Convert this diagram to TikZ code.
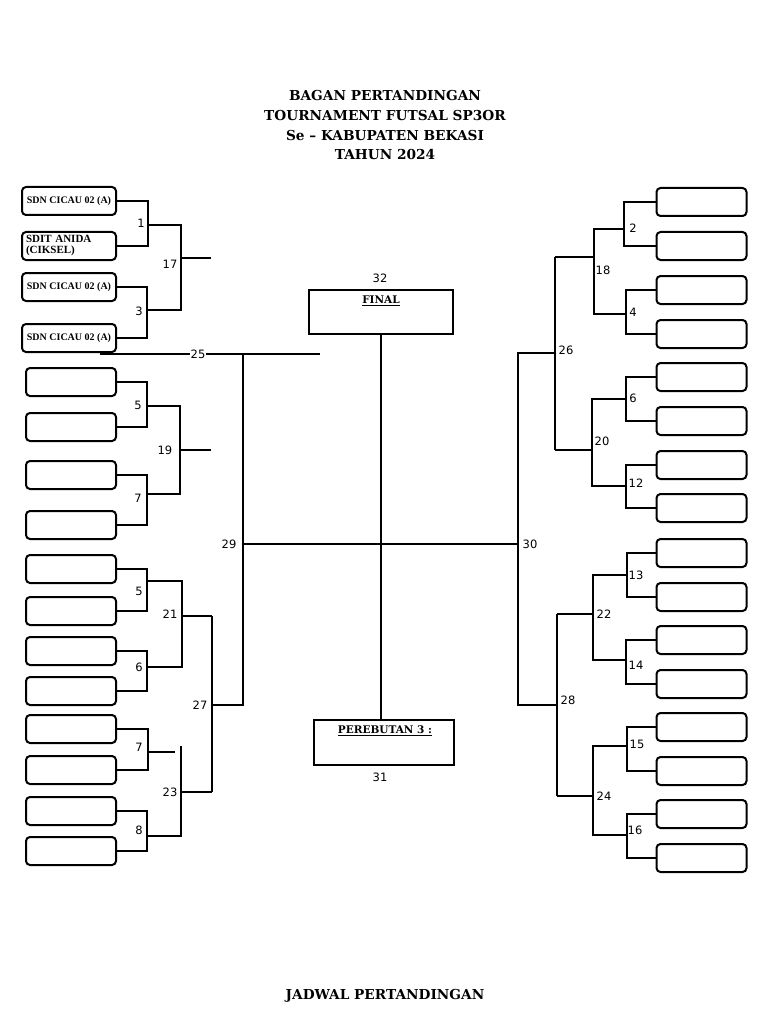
\documentclass[tikz,border=0pt]{standalone}
\usepackage{fontspec}
\setmainfont{DejaVu Serif}
\newfontfamily\numf{DejaVu Sans}
\newfontfamily\boxf{Liberation Serif}
\begin{document}
\begin{tikzpicture}[x=1pt,y=-1pt,
  tb/.style={draw,line width=2pt,rounded corners=4pt,minimum width=90pt,minimum height=28pt,inner sep=1pt,font=\boxf\bfseries\fontsize{10}{10}\selectfont,align=left},
  ln/.style={line width=2pt},
  num/.style={font=\numf\fontsize{11.5}{13}\selectfont,inner sep=0pt},
  ttl/.style={font=\bfseries\fontsize{13.7}{15}\selectfont,inner sep=0pt}]
\useasboundingbox (0,0) rectangle (768,1024);
% titles
\node[ttl] (t1) at (385,96) {BAGAN PERTANDINGAN};
\node[ttl] (t2) at (385,116) {TOURNAMENT FUTSAL SP3OR};
\node[ttl] (t3) at (385,136) {Se -- KABUPATEN BEKASI};
\node[ttl] (t4) at (385,155) {TAHUN 2024};
\node[ttl] (t5) at (385,996) {JADWAL PERTANDINGAN};
% left boxes
\node[tb,minimum width=94pt] (L1) at (69,201) {SDN CICAU 02 (A)};
\node[tb,minimum width=94pt,text width=86pt,font=\boxf\bfseries\fontsize{11}{11}\selectfont] (L2) at (69,246) {SDIT ANIDA\\(CIKSEL)};
\node[tb,minimum width=94pt] (L3) at (69,287) {SDN CICAU 02 (A)};
\node[tb,minimum width=94pt] (L4) at (69,338) {SDN CICAU 02 (A)};
\foreach \n/\y in {5/382,6/427,7/475,8/525,9/569,10/611,11/651,12/691,13/729,14/770,15/811,16/851}
  \node[tb] (L\n) at (71,\y) {};
% right boxes
\foreach \n/\y in {1/202,2/246,3/290,4/334,5/377,6/421,7/465,8/508,9/553,10/597,11/640,12/684,13/727,14/771,15/814,16/858}
  \node[tb] (R\n) at (701.5,\y) {};
% left round 1
\draw[ln] (L1.east) -| (148,223) |- (L2.east);
\draw[ln] (L3.east) -| (147,311) |- (L4.east);
\draw[ln] (L5.east) -| (147,405) |- (L6.east);
\draw[ln] (L7.east) -| (147,498) |- (L8.east);
\draw[ln] (L9.east) -| (147,591) |- (L10.east);
\draw[ln] (L11.east) -| (147,667) |- (L12.east);
\draw[ln] (L13.east) -| (148,747) |- (L14.east);
\draw[ln] (L15.east) -| (147,830) |- (L16.east);
\node[num] (n1) at (141,223) {1};
\node[num] (n3) at (139,311) {3};
\node[num] (n5a) at (138,405) {5};
\node[num] (n7a) at (138,498) {7};
\node[num] (n5b) at (139,591) {5};
\node[num] (n6a) at (139,667) {6};
\node[num] (n7b) at (139,747) {7};
\node[num] (n8) at (139,830) {8};
% left round 2
\draw[ln] (148,225) -| (181,310) -- (147,310);
\draw[ln] (181,258) -- (211,258);
\draw[ln] (147,406) -| (180,494) -- (147,494);
\draw[ln] (180,450) -- (211,450);
\draw[ln] (147,581) -| (182,667) -- (147,667);
\draw[ln] (182,616) -- (212,616);
\draw[ln] (148,752) -- (175,752);
\draw[ln] (181,746) -- (181,836) -- (147,836);
\draw[ln] (181,792) -- (212,792);
\node[num] (n17) at (170,264) {17};
\node[num] (n19) at (165,450) {19};
\node[num] (n21) at (170,614) {21};
\node[num] (n23) at (170,792) {23};
% left round 3/4
\draw[ln] (212,616) -- (212,792);
\draw[ln] (212,705) -- (243,705) -- (243,354);
\draw[ln] (100,354) -- (320,354);
\node[num,fill=white,inner sep=0.5pt] (n25) at (198,354) {25};
\node[num] (n27) at (200,705) {27};
\node[num] (n29) at (229,544) {29};
% right round 1
\draw[ln] (R1.west) -| (624,228) |- (R2.west);
\draw[ln] (R3.west) -| (626,312) |- (R4.west);
\draw[ln] (R5.west) -| (626,398) |- (R6.west);
\draw[ln] (R7.west) -| (626,483) |- (R8.west);
\draw[ln] (R9.west) -| (627,575) |- (R10.west);
\draw[ln] (R11.west) -| (626,662) |- (R12.west);
\draw[ln] (R13.west) -| (627,746) |- (R14.west);
\draw[ln] (R15.west) -| (627,835) |- (R16.west);
\node[num] (n2) at (633,228) {2};
\node[num] (n4) at (633,312) {4};
\node[num] (n6b) at (633,398) {6};
\node[num] (n12) at (636,483) {12};
\node[num] (n13) at (636,575) {13};
\node[num] (n14) at (636,665) {14};
\node[num] (n15) at (637,744) {15};
\node[num] (n16) at (635,830) {16};
% right round 2
\draw[ln] (624,229) -| (594,314) -- (626,314);
\draw[ln] (594,257) -- (555,257);
\draw[ln] (626,399) -| (592,486) -- (626,486);
\draw[ln] (592,450) -- (555,450);
\draw[ln] (627,575) -| (593,660) -- (626,660);
\draw[ln] (593,614) -- (557,614);
\draw[ln] (627,746) -| (593,835) -- (627,835);
\draw[ln] (593,796) -- (557,796);
\node[num] (n18) at (603,270) {18};
\node[num] (n20) at (602,441) {20};
\node[num] (n22) at (604,614) {22};
\node[num] (n24) at (604,796) {24};
% right round 3/4
\draw[ln] (555,257) -- (555,450);
\draw[ln] (555,353) -- (518,353) -- (518,705) -- (557,705);
\draw[ln] (557,614) -- (557,796);
\node[num] (n26) at (566,350) {26};
\node[num] (n28) at (568,700) {28};
\node[num] (n30) at (530,544) {30};
% centre
\node[draw,line width=2pt,minimum width=144pt,minimum height=44pt] (fin) at (381,312) {};
\node[font=\bfseries\fontsize{10.5}{12}\selectfont,inner sep=0pt] (finl) at (381,301) {\underline{FINAL}};
\node[num] (n32) at (380,278) {32};
\node[draw,line width=2pt,minimum width=140pt,minimum height=45pt] (per) at (384,742.5) {};
\node[font=\bfseries\fontsize{10.5}{12}\selectfont,inner sep=0pt] (perl) at (385,731) {\underline{PEREBUTAN 3 :}};
\node[num] (n31) at (380,777) {31};
\draw[ln] (fin.south) -- (fin.south |- per.north);
\draw[ln] (243,544) -- (518,544);
\end{tikzpicture}
\end{document}
